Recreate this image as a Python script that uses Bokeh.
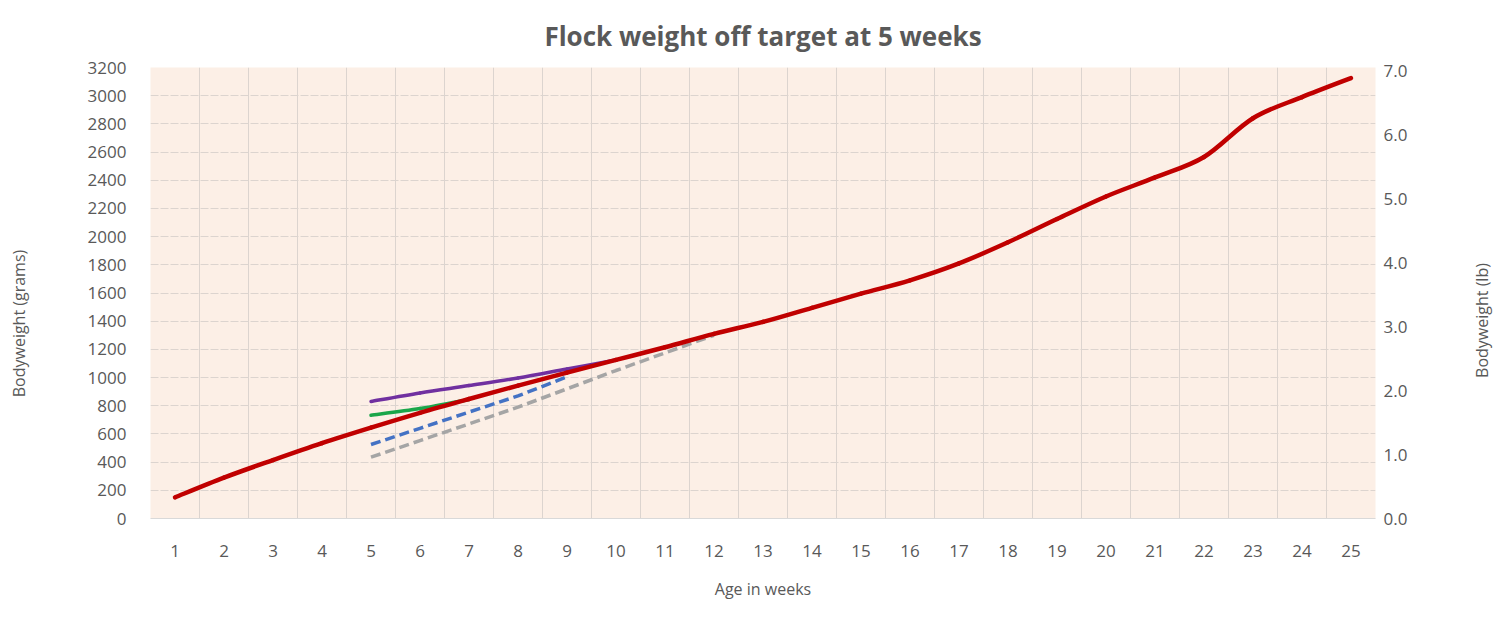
import math
from bokeh.plotting import figure
from bokeh.models import Range1d, LinearAxis, FixedTicker, NumeralTickFormatter, Label
from bokeh.embed import file_html
from bokeh.resources import INLINE

# ---- data ----
weeks = list(range(1, 26))
target_g = [150, 290, 415, 535, 645, 750, 848, 943, 1035, 1125, 1215, 1310, 1395,
            1495, 1595, 1690, 1810, 1960, 2125, 2285, 2420, 2565, 2840, 2990, 3125]
purple_weeks = [5, 6, 7, 8, 9, 10]
purple_g = [830, 891, 943, 997, 1061, 1125]
green_weeks = [5, 6, 7]
green_g = [733, 780, 845]
blue_weeks = [5, 6, 7, 8, 9]
blue_g = [525, 640, 755, 870, 1005]
gray_weeks = [5, 6, 7, 8, 9, 10, 11, 12]
gray_g = [435, 553, 671, 790, 920, 1050, 1175, 1300]
y_ticks_g = list(range(0, 3201, 200))
y_ticks_lb = [0, 1, 2, 3, 4, 5, 6, 7]
G_PER_LB = 453.592

FONT = "'Open Sans', sans-serif"
TXT = "#595959"

p = figure(width=1508, height=620, output_backend="svg", toolbar_location=None,
           x_range=Range1d(0.5, 25.5), y_range=Range1d(0, 3200),
           title="Flock weight off target at 5 weeks")
p.min_border_left = 150
p.min_border_right = 133
p.min_border_top = 67
p.min_border_bottom = 102
p.border_fill_color = "white"
p.outline_line_color = None
p.background_fill_color = "#FCEFE6"

p.title.align = "center"
p.title.text_font = FONT
p.title.text_font_size = "26px"
p.title.text_font_style = "bold"
p.title.text_color = TXT
p.title.standoff = 27

# x axis
xa = p.xaxis[0]
xa.ticker = FixedTicker(ticks=weeks)
xa.axis_label = "Age in weeks"
xa.axis_line_color = "#D9D9D9"
xa.major_tick_line_color = None
xa.minor_tick_line_color = None
xa.major_label_standoff = 20
xa.axis_label_standoff = 18

# left y axis (ticks)
ya = p.yaxis[0]
ya.ticker = FixedTicker(ticks=y_ticks_g)
ya.axis_line_color = None
ya.major_tick_line_color = None
ya.minor_tick_line_color = None
ya.major_label_standoff = 18

# right y axis (ticks)
p.extra_y_ranges = {"lb": Range1d(0, 3200 / G_PER_LB)}
ra = LinearAxis(y_range_name="lb", ticker=FixedTicker(ticks=y_ticks_lb),
                formatter=NumeralTickFormatter(format="0.0"))
ra.axis_line_color = None
ra.major_tick_line_color = None
ra.minor_tick_line_color = None
ra.major_label_standoff = 2
p.add_layout(ra, "right")

for ax in [xa, ya, ra]:
    ax.major_label_text_font = FONT
    ax.major_label_text_font_size = "17px"
    ax.major_label_text_color = TXT
    ax.axis_label_text_font = FONT
    ax.axis_label_text_font_size = "16px"
    ax.axis_label_text_font_style = "normal"
    ax.axis_label_text_color = TXT

# vertical axis titles, a little below the middle as in the original
left_title = Label(x=-44, y=195, x_units="screen", y_units="screen", text="Bodyweight (grams)",
                   angle=math.pi / 2, text_align="center", text_baseline="middle",
                   text_font=FONT, text_font_size="16px", text_color=TXT)
p.add_layout(left_title, "left")
right_title = Label(x=71, y=198, x_units="screen", y_units="screen", text="Bodyweight (lb)",
                    angle=math.pi / 2, text_align="center", text_baseline="middle",
                    text_font=FONT, text_font_size="16px", text_color=TXT)
p.add_layout(right_title, "right")

# grids
p.ygrid.ticker = FixedTicker(ticks=y_ticks_g)
p.ygrid.grid_line_color = "#DCD4CF"
p.ygrid.grid_line_dash = "8 2"
p.xgrid.ticker = FixedTicker(ticks=[w + 0.5 for w in weeks[:-1]])
p.xgrid.grid_line_color = "#DCD4CF"


def smooth_segments(xs, ys):
    """Catmull-Rom style Bezier control points (Excel 'smoothed line')."""
    n = len(xs)
    x0, y0, x1, y1, cx0, cy0, cx1, cy1 = [], [], [], [], [], [], [], []
    for i in range(n - 1):
        xp, yp = (xs[i - 1], ys[i - 1]) if i > 0 else (xs[i], ys[i])
        xn2, yn2 = (xs[i + 2], ys[i + 2]) if i + 2 < n else (xs[i + 1], ys[i + 1])
        x0.append(xs[i]); y0.append(ys[i])
        x1.append(xs[i + 1]); y1.append(ys[i + 1])
        cx0.append(xs[i] + (xs[i + 1] - xp) / 6.0)
        cy0.append(ys[i] + (ys[i + 1] - yp) / 6.0)
        cx1.append(xs[i + 1] - (xn2 - xs[i]) / 6.0)
        cy1.append(ys[i + 1] - (yn2 - ys[i]) / 6.0)
    return dict(x0=x0, y0=y0, x1=x1, y1=y1, cx0=cx0, cy0=cy0, cx1=cx1, cy1=cy1)


p.line(gray_weeks, gray_g, line_color="#A5A5A5", line_width=3.5, line_dash="10 5")
p.line(blue_weeks, blue_g, line_color="#4472C4", line_width=3.5, line_dash="10 5")
p.bezier(source=smooth_segments(green_weeks, green_g), x0="x0", y0="y0", x1="x1", y1="y1",
         cx0="cx0", cy0="cy0", cx1="cx1", cy1="cy1",
         line_color="#1AA64A", line_width=3.5, line_cap="round")
p.bezier(source=smooth_segments(purple_weeks, purple_g), x0="x0", y0="y0", x1="x1", y1="y1",
         cx0="cx0", cy0="cy0", cx1="cx1", cy1="cy1",
         line_color="#7030A0", line_width=3.5, line_cap="round")
p.bezier(source=smooth_segments(weeks, target_g), x0="x0", y0="y0", x1="x1", y1="y1",
         cx0="cx0", cy0="cy0", cx1="cx1", cy1="cy1",
         line_color="#C00000", line_width=4.5, line_cap="round")

open("out.html", "w").write(file_html(p, INLINE))
